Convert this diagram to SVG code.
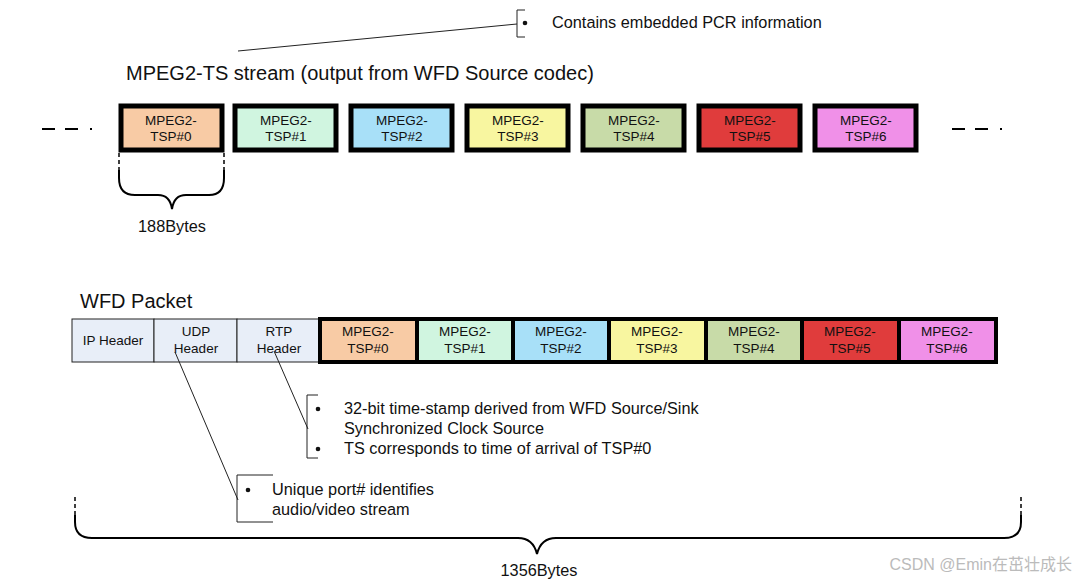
<svg xmlns="http://www.w3.org/2000/svg" width="1090" height="584" viewBox="0 0 1090 584">
<style>
text{font-family:"Liberation Sans",Arial,sans-serif;fill:#111}
.s{font-size:13.5px;text-anchor:middle}
.m{font-size:16.3px}
.t{font-size:20px}
.tk{stroke:#000;stroke-width:5}
.hd{fill:#E8EEF8;stroke:#222;stroke-width:1}
.ln{stroke:#222;stroke-width:1;fill:none}
.br{stroke:#000;stroke-width:2;fill:none}
.da{stroke:#000;stroke-width:1.5;stroke-dasharray:4 3}
</style>
<rect width="1090" height="584" fill="#fff"/>
<text class="t" x="126" y="80">MPEG2-TS stream (output from WFD Source codec)</text>
<g id="dashes" stroke="#000" stroke-width="2">
<line x1="42" y1="129" x2="55" y2="129"/><line x1="65" y1="129" x2="78" y2="129"/><line x1="90" y1="129" x2="92" y2="129"/>
<line x1="952" y1="129" x2="965" y2="129"/><line x1="975" y1="129" x2="988" y2="129"/><line x1="1000" y1="129" x2="1002" y2="129"/>
</g>
<g id="t0"><rect class="tk" x="121" y="106" width="101" height="44" fill="#F8CBA5"/><text class="s" x="171" y="125">MPEG2-</text><text class="s" x="171" y="141">TSP#0</text></g>
<g id="t1"><rect class="tk" x="235" y="106" width="101" height="44" fill="#D0F5E0"/><text class="s" x="286" y="125">MPEG2-</text><text class="s" x="286" y="141">TSP#1</text></g>
<g id="t2"><rect class="tk" x="351" y="106" width="101" height="44" fill="#A8E0F8"/><text class="s" x="402" y="125">MPEG2-</text><text class="s" x="402" y="141">TSP#2</text></g>
<g id="t3"><rect class="tk" x="467" y="106" width="101" height="44" fill="#F8F6A0"/><text class="s" x="518" y="125">MPEG2-</text><text class="s" x="518" y="141">TSP#3</text></g>
<g id="t4"><rect class="tk" x="583" y="106" width="101" height="44" fill="#C8DBA8"/><text class="s" x="634" y="125">MPEG2-</text><text class="s" x="634" y="141">TSP#4</text></g>
<g id="t5"><rect class="tk" x="699" y="106" width="101" height="44" fill="#E03C3C"/><text class="s" x="750" y="125">MPEG2-</text><text class="s" x="750" y="141">TSP#5</text></g>
<g id="t6"><rect class="tk" x="815" y="106" width="101" height="44" fill="#F090E8"/><text class="s" x="866" y="125">MPEG2-</text><text class="s" x="866" y="141">TSP#6</text></g>
<g id="pcr"><path class="ln" d="M525,10 H517 V37 H525"/><circle cx="525" cy="23" r="2.3" fill="#111"/><text class="m" x="552" y="28">Contains embedded PCR information</text></g>
<g id="brace188"><line class="da" x1="119" y1="153" x2="119" y2="170"/><line class="da" x1="224" y1="153" x2="224" y2="170"/>
<path class="br" d="M119,170 V178 Q119,195 135,195 H158 Q170,195 172,209 Q174,195 186,195 H209 Q224,195 224,178 V170"/>
<text class="m" x="172" y="232" text-anchor="middle">188Bytes</text></g>
<text class="t" x="80" y="308">WFD Packet</text>
<g id="ip"><rect class="hd" x="72" y="319" width="82" height="43"/><text class="s" x="113" y="345">IP Header</text></g>
<g id="udp"><rect class="hd" x="154" y="319" width="83" height="43"/><text class="s" x="196" y="336">UDP</text><text class="s" x="196" y="353">Header</text></g>
<g id="rtp"><rect class="hd" x="237" y="319" width="83" height="43"/><text class="s" x="279" y="336">RTP</text><text class="s" x="279" y="353">Header</text></g>
<g id="p0"><rect x="320" y="319" width="97" height="43" fill="#F8CBA5"/><text class="s" x="368" y="336">MPEG2-</text><text class="s" x="368" y="353">TSP#0</text></g>
<g id="p1"><rect x="417" y="319" width="96" height="43" fill="#D0F5E0"/><text class="s" x="465" y="336">MPEG2-</text><text class="s" x="465" y="353">TSP#1</text></g>
<g id="p2"><rect x="513" y="319" width="96" height="43" fill="#A8E0F8"/><text class="s" x="561" y="336">MPEG2-</text><text class="s" x="561" y="353">TSP#2</text></g>
<g id="p3"><rect x="609" y="319" width="97" height="43" fill="#F8F6A0"/><text class="s" x="657" y="336">MPEG2-</text><text class="s" x="657" y="353">TSP#3</text></g>
<g id="p4"><rect x="706" y="319" width="96" height="43" fill="#C8DBA8"/><text class="s" x="754" y="336">MPEG2-</text><text class="s" x="754" y="353">TSP#4</text></g>
<g id="p5"><rect x="802" y="319" width="97" height="43" fill="#E03C3C"/><text class="s" x="850" y="336">MPEG2-</text><text class="s" x="850" y="353">TSP#5</text></g>
<g id="p6"><rect x="899" y="319" width="97" height="43" fill="#F090E8"/><text class="s" x="947" y="336">MPEG2-</text><text class="s" x="947" y="353">TSP#6</text></g>
<g id="pframe" fill="none" stroke="#000" stroke-width="4">
<rect x="320" y="319" width="676" height="43"/>
<path d="M417,319V362M513,319V362M609,319V362M706,319V362M802,319V362M899,319V362"/></g>
<g id="connectors">
<line class="ln" x1="517" y1="24" x2="238" y2="51"/>
<line class="ln" x1="274" y1="351" x2="308" y2="429"/>
<line class="ln" x1="175" y1="352" x2="238" y2="500"/>
</g>
<g id="rtpnote"><path class="ln" d="M318,395 H307 V458 H318"/>
<circle cx="318" cy="409" r="2.3" fill="#111"/><circle cx="318" cy="449" r="2.3" fill="#111"/>
<text class="m" x="344" y="414">32-bit time-stamp derived from WFD Source/Sink</text>
<text class="m" x="344" y="434">Synchronized Clock Source</text>
<text class="m" x="344" y="454">TS corresponds to time of arrival of TSP#0</text></g>
<g id="udpnote"><path class="ln" d="M273,475 H237 V522 H273"/>
<circle cx="248" cy="490" r="2.3" fill="#111"/>
<text class="m" x="272" y="495">Unique port# identifies</text>
<text class="m" x="272" y="515">audio/video stream</text></g>
<g id="brace1356"><line class="da" x1="75" y1="497" x2="75" y2="515"/><line class="da" x1="1021" y1="497" x2="1021" y2="515"/>
<path class="br" d="M75,515 V522 Q75,538 92,538 H518 Q533,538 537,554 Q541,538 556,538 H1004 Q1021,538 1021,522 V515"/>
<text class="m" x="539" y="576" text-anchor="middle">1356Bytes</text></g>
<text x="1072" y="570" text-anchor="end" style="font-size:16px;fill:#bbb;font-family:'Liberation Sans','Noto Sans CJK SC',sans-serif">CSDN @Emin在茁壮成长</text>
</svg>
